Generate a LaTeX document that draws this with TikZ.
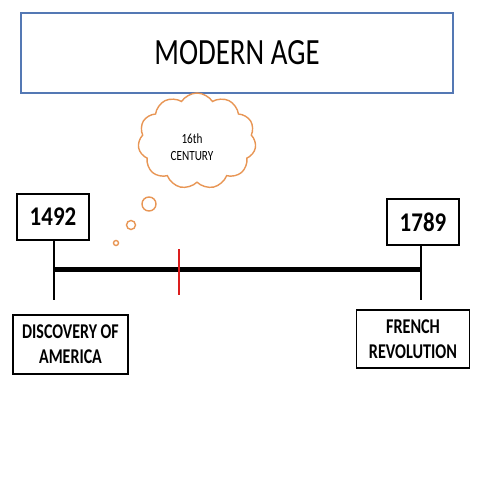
\documentclass[tikz,border=0pt]{standalone}
\usepackage{fontspec}
\setmainfont{Carlito}
\usetikzlibrary{shapes.symbols}
\definecolor{titleblue}{RGB}{84,120,180}
\definecolor{cloudorange}{RGB}{232,150,85}
\definecolor{tickred}{RGB}{220,30,30}
\begin{document}
\begin{tikzpicture}[x=1pt,y=-1pt,
  yearbox/.style={draw=black,line width=1.5pt,inner sep=0pt,font=\fontsize{27}{27}\selectfont\bfseries},
  eventbox/.style={draw=black,line width=1.5pt,inner sep=0pt,align=center,font=\fontsize{21}{25}\selectfont\bfseries},
  stem/.style={line width=2pt,black},
  bubble/.style={draw=cloudorange,line width=1.4pt,circle,inner sep=0pt}]
\useasboundingbox[fill=white] (0,0) rectangle (480,480);
% title
\node[draw=titleblue,line width=1.5pt,minimum width=432pt,minimum height=80pt,inner sep=0pt] (title) at (237,53)
  {\scalebox{0.78}[1]{\fontsize{37}{37}\selectfont MODERN AGE}};
% cloud
\node[cloud,draw=cloudorange,line width=1.4pt,cloud puffs=11,cloud puff arc=115,aspect=1.25,
  minimum width=118pt,minimum height=96pt,inner sep=0pt] (cloud) at (197,141) {};
\node[align=center,inner sep=0pt,font=\fontsize{14}{17}\selectfont] (cloudtext) at (192,147)
  {\scalebox{0.8}[1]{16th}\\\scalebox{0.8}[1]{CENTURY}};
\node[bubble,minimum size=14pt] (b1) at (149,204) {};
\node[bubble,minimum size=9pt] (b2) at (131,225) {};
\node[bubble,minimum size=5pt] (b3) at (116,243) {};
% year boxes
\node[yearbox,minimum width=72pt,minimum height=46pt] (y1) at (53,217) {\scalebox{0.85}[1]{1492}};
\node[yearbox,minimum width=72pt,minimum height=46pt] (y2) at (423,222) {\scalebox{0.85}[1]{1789}};
% event boxes
\node[eventbox,minimum width=115pt,minimum height=59pt] (e1) at (70.5,344.5)
  {\scalebox{0.76}[1]{DISCOVERY OF}\\\scalebox{0.76}[1]{AMERICA}};
\node[eventbox,minimum width=113pt,minimum height=58pt] (e2) at (413,339)
  {\scalebox{0.77}[1]{FRENCH}\\\scalebox{0.77}[1]{REVOLUTION}};
% timeline
\coordinate (s1) at (54,300);
\coordinate (s2) at (421,300);
\coordinate (l1) at (54,269.5);
\coordinate (l2) at (421,269.5);
\draw[stem] (y1.south -| s1) -- (s1);
\draw[stem] (y2.south -| s2) -- (s2);
\draw[line width=5.5pt,black] (l1) -- (l2);
\coordinate (t1) at (179,249);
\coordinate (t2) at (179,295);
\draw[tickred,line width=2pt] (t1) -- (t2);
\end{tikzpicture}
\end{document}
